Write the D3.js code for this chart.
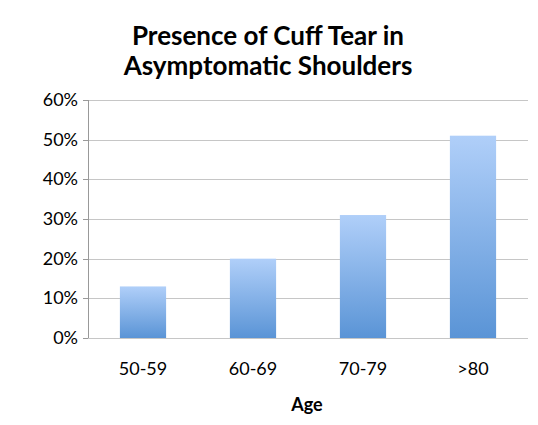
<!DOCTYPE html>
<html>
<head>
<meta charset="utf-8">
<script src="https://cdn.jsdelivr.net/npm/d3@7"></script>
<style>body{margin:0;background:#fff}</style>
</head>
<body>
<script>
var categories = ["50-59", "60-69", "70-79", ">80"];
var values = [0.13, 0.20, 0.31, 0.51];
var ticks = [0, 0.1, 0.2, 0.3, 0.4, 0.5, 0.6];
var titleLines = ["Presence of Cuff Tear in", "Asymptomatic Shoulders"];

var W = 538, H = 425;
var mLeft = 88, mRight = 528, mTop = 100, mBottom = 338;
var font = "Lato, 'Open Sans', sans-serif";

var svg = d3.select("body").append("svg").attr("width", W).attr("height", H);

var grad = svg.append("defs").append("linearGradient")
    .attr("id", "g").attr("x1", 0).attr("y1", 0).attr("x2", 0).attr("y2", 1);
grad.append("stop").attr("offset", "0%").attr("stop-color", "#b0cff9");
grad.append("stop").attr("offset", "100%").attr("stop-color", "#5a94d6");

var x = d3.scaleBand().domain(categories).range([mLeft, mRight]).paddingInner(0.58).paddingOuter(0.29);
var y = d3.scaleLinear().domain([0, 0.6]).range([mBottom, mTop]);

svg.selectAll(".grid").data(ticks).enter().append("line")
    .attr("x1", mLeft).attr("x2", mRight)
    .attr("y1", function (d) { return Math.round(y(d)) + 0.5; })
    .attr("y2", function (d) { return Math.round(y(d)) + 0.5; })
    .attr("stroke", "#c6c6c6").attr("stroke-width", 1);

svg.append("line").attr("x1", mLeft + 0.5).attr("x2", mLeft + 0.5)
    .attr("y1", mTop).attr("y2", mBottom).attr("stroke", "#999");
svg.selectAll(".tk").data(ticks).enter().append("line")
    .attr("x1", mLeft - 5).attr("x2", mLeft)
    .attr("y1", function (d) { return Math.round(y(d)) + 0.5; })
    .attr("y2", function (d) { return Math.round(y(d)) + 0.5; })
    .attr("stroke", "#999");

svg.selectAll(".bar").data(values).enter().append("rect")
    .attr("x", function (d, i) { return x(categories[i]); })
    .attr("width", x.bandwidth())
    .attr("y", function (d) { return y(d); })
    .attr("height", function (d) { return mBottom - y(d); })
    .attr("fill", "url(#g)");

svg.selectAll(".yl").data(ticks).enter().append("text")
    .attr("x", mLeft - 10).attr("y", function (d) { return y(d) + 6; })
    .attr("text-anchor", "end").attr("font-family", font).attr("font-size", 18)
    .text(d3.format(".0%"));

svg.selectAll(".xl").data(categories).enter().append("text")
    .attr("x", function (d) { return x(d) + x.bandwidth() / 2; }).attr("y", 375)
    .attr("text-anchor", "middle").attr("font-family", font).attr("font-size", 18)
    .text(function (d) { return d; });

svg.append("text").attr("x", (mLeft + mRight) / 2 - 1).attr("y", 411)
    .attr("text-anchor", "middle").attr("font-family", font).attr("font-size", 18)
    .attr("font-weight", "bold").text("Age");

svg.selectAll(".title").data(titleLines).enter().append("text")
    .attr("x", 268).attr("y", function (d, i) { return 45 + i * 30; })
    .attr("text-anchor", "middle").attr("font-family", font).attr("font-size", 26)
    .attr("font-weight", "bold").text(function (d) { return d; });
</script>
</body>
</html>
